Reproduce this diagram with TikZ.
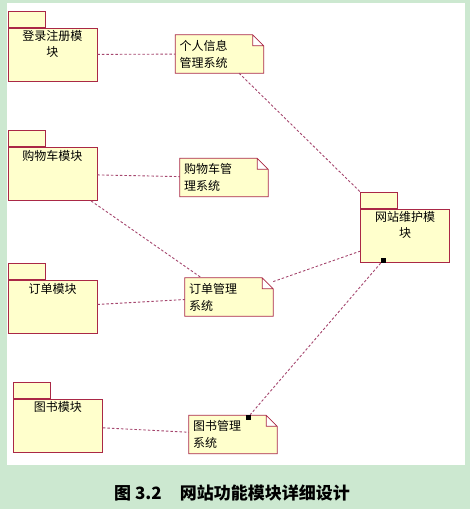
\documentclass[tikz,border=0pt]{standalone}
\usepackage{fontspec}
\setmainfont{Noto Sans CJK SC}
\usepackage{tikz}
\usetikzlibrary{positioning,backgrounds}

\definecolor{pagegreen}{RGB}{204,232,208}
\definecolor{umlfill}{RGB}{255,255,204}
\definecolor{umlline}{RGB}{170,40,70}
\definecolor{deplink}{RGB}{165,70,110}

\begin{document}
\begin{tikzpicture}[x=1pt,y=-1pt,
  pkg/.style={rectangle,draw=umlline,fill=umlfill,line width=.8pt,minimum width=89pt,minimum height=53pt,inner sep=0pt},
  pkgtab/.style={rectangle,draw=umlline,fill=umlfill,line width=.8pt,minimum width=37pt,minimum height=16pt,inner sep=0pt},
  pkgname/.style={anchor=north,align=center,inner sep=3pt,font=\fontsize{12}{16}\selectfont},
  note/.style={rectangle,minimum width=88pt,minimum height=38pt,text width=80pt,inner sep=4pt,align=left,font=\fontsize{12}{17}\selectfont},
  notefold/.style={draw=umlline,fill=umlfill,line width=.8pt,line join=miter},
  dep/.style={draw=deplink,dash pattern=on 2.5pt off 2pt,line width=.9pt},
  endsq/.style={rectangle,fill=black,minimum size=5pt,inner sep=0pt}]

  \begin{scope}[on background layer]
    \path[use as bounding box,fill=pagegreen] (0,0) rectangle (470,509);
    \fill[white] (7,3) rectangle (465,465);
  \end{scope}

  \node[pkg] (m1) at (52.5,54.5) {};
  \node[pkgtab] (m1tab) [above right=0pt and 0pt of m1.north west] {};
  \node[pkgname] (m1name) [below=0pt of m1.north] {登录注册模\\块};

  \node[pkg] (m2) at (52.5,174) {};
  \node[pkgtab] (m2tab) [above right=0pt and 0pt of m2.north west] {};
  \node[pkgname] (m2name) [below=0pt of m2.north] {购物车模块};

  \node[pkg] (m3) at (52.5,307) {};
  \node[pkgtab] (m3tab) [above right=0pt and 0pt of m3.north west] {};
  \node[pkgname] (m3name) [below=0pt of m3.north] {订单模块};

  \node[pkg] (m4) at (58,425.5) {};
  \node[pkgtab] (m4tab) [above right=0pt and 0pt of m4.north west] {};
  \node[pkgname] (m4name) [below=0pt of m4.north] {图书模块};

  \node[pkg] (m5) at (405,235.5) {};
  \node[pkgtab] (m5tab) [above right=0pt and 0pt of m5.north west] {};
  \node[pkgname] (m5name) [below=0pt of m5.north] {网站维护模\\块};

  \node[note] (n1) at (219.5,54) {个人信息\\管理系统};
  \node[note] (n2) at (224,177.5) {购物车管\\理系统};
  \node[note] (n3) at (229,297) {订单管理\\系统};
  \node[note] (n4) at (233,434.5) {图书管理\\系统};

  \begin{scope}[on background layer]
    \foreach \n in {n1,n2,n3,n4}
      \draw[notefold] (\n.north west) -- ([xshift=-11pt]\n.north east)
        -- ([yshift=-11pt]\n.north east) -- (\n.south east)
        -- (\n.south west) -- cycle
        ([xshift=-11pt]\n.north east) |- ([yshift=-11pt]\n.north east);
  \end{scope}

  \draw[dep] (m1) -- (n1);
  \draw[dep] (m2) -- (n2);
  \draw[dep] (m3) -- (n3);
  \draw[dep] (m4) -- (n4);
  \draw[dep] (m2) -- (n3);
  \draw[dep] (n1) -- (m5tab.north west);
  \draw[dep] (n3) -- (m5);

  \node[endsq] (s1) at ([xshift=-22pt,yshift=2pt]m5.south) {};
  \node[endsq] (s2) at ([xshift=15pt,yshift=-2pt]n4.north) {};
  \draw[dep] (s1) -- (s2);

  \node[font=\fontsize{17}{20}\selectfont\bfseries] (cap) at (232,493) {图 3.2\hspace{18pt}网站功能模块详细设计};

\end{tikzpicture}
\end{document}
